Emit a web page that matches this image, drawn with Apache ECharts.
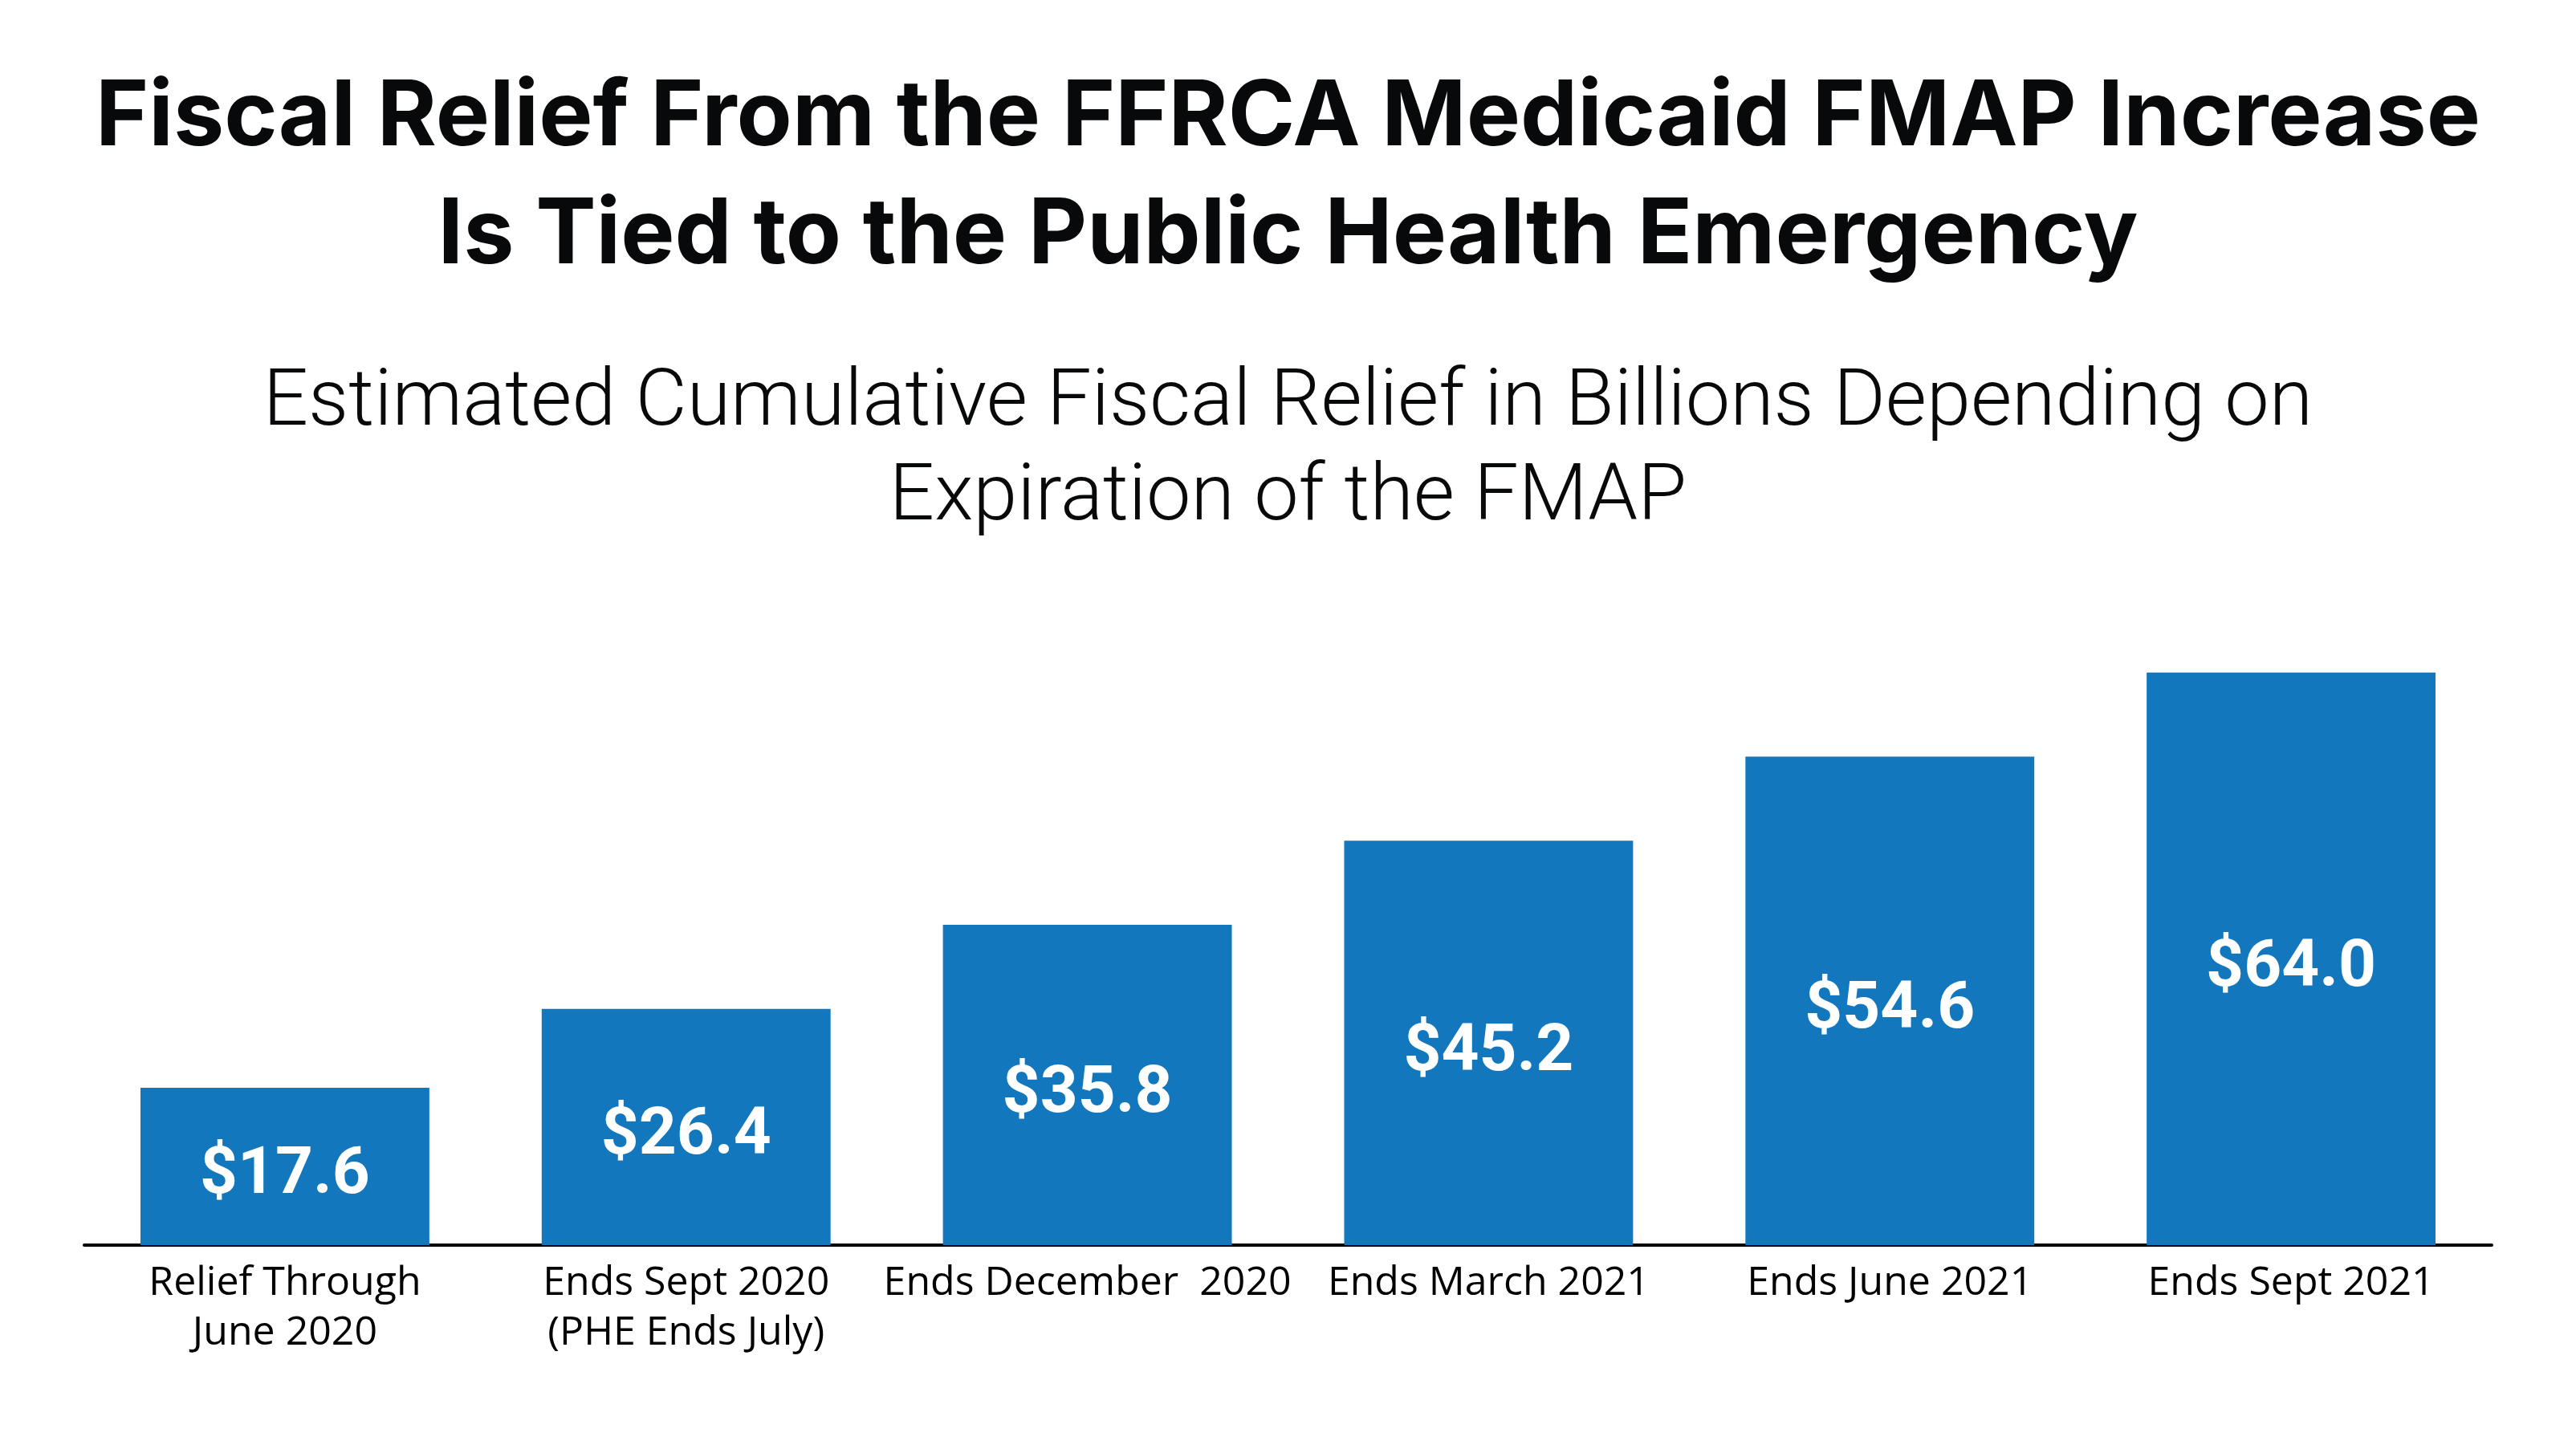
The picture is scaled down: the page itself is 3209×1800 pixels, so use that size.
<!DOCTYPE html>
<html>
<head>
<meta charset="utf-8">
<script src="https://cdn.jsdelivr.net/npm/echarts@6/dist/echarts.min.js"></script>
<style>
html,body{margin:0;padding:0;background:#fff;}
#chart{width:3209px;height:1800px;}
</style>
</head>
<body>
<div id="chart"></div>
<script>
const titleLines = ["Fiscal Relief From the FFRCA Medicaid FMAP Increase", "Is Tied to the Public Health Emergency"];
const subtitleLines = ["Estimated Cumulative Fiscal Relief in Billions Depending on", "Expiration of the FMAP"];
const categories = ["Relief Through\nJune 2020", "Ends Sept 2020\n(PHE Ends July)", "Ends December  2020", "Ends March 2021", "Ends June 2021", "Ends Sept 2021"];
const values = [17.6, 26.4, 35.8, 45.2, 54.6, 64.0];

const chart = echarts.init(document.getElementById('chart'), null, {renderer: 'canvas'});
chart.setOption({
  backgroundColor: '#ffffff',
  animation: false,
  title: [
    {
      text: titleLines.join('\n'),
      left: 'center',
      top: 74,
      padding: 0,
      textStyle: {fontFamily: 'Inter', fontWeight: 'bold', fontSize: 113, lineHeight: 147, color: '#08090b', align: 'center'}
    },
    {
      text: subtitleLines.join('\n'),
      left: 'center',
      top: 445,
      padding: 0,
      textStyle: {fontFamily: 'Roboto', fontWeight: 300, fontSize: 99, lineHeight: 118, color: '#08090b', align: 'center'}
    }
  ],
  grid: {left: 105, right: 105, top: 771, bottom: 249, containLabel: false},
  xAxis: {
    type: 'category',
    data: categories,
    axisLine: {show: true, lineStyle: {color: '#000', width: 4}},
    axisTick: {show: false},
    axisLabel: {
      interval: 0, margin: 17,
      fontFamily: 'Open Sans', fontSize: 50, lineHeight: 62, color: '#000'
    }
  },
  yAxis: {
    type: 'value', min: 0, max: 70, show: false,
    splitLine: {show: false}
  },
  series: [{
    type: 'bar',
    data: values,
    barWidth: '72%',
    itemStyle: {color: '#1277bc'},
    label: {
      show: true, position: 'inside', offset: [0, 13],
      formatter: p => '$' + p.value.toFixed(1),
      fontFamily: 'Roboto', fontWeight: 'bold', fontSize: 82, color: '#ffffff'
    }
  }]
});
</script>
</body>
</html>
